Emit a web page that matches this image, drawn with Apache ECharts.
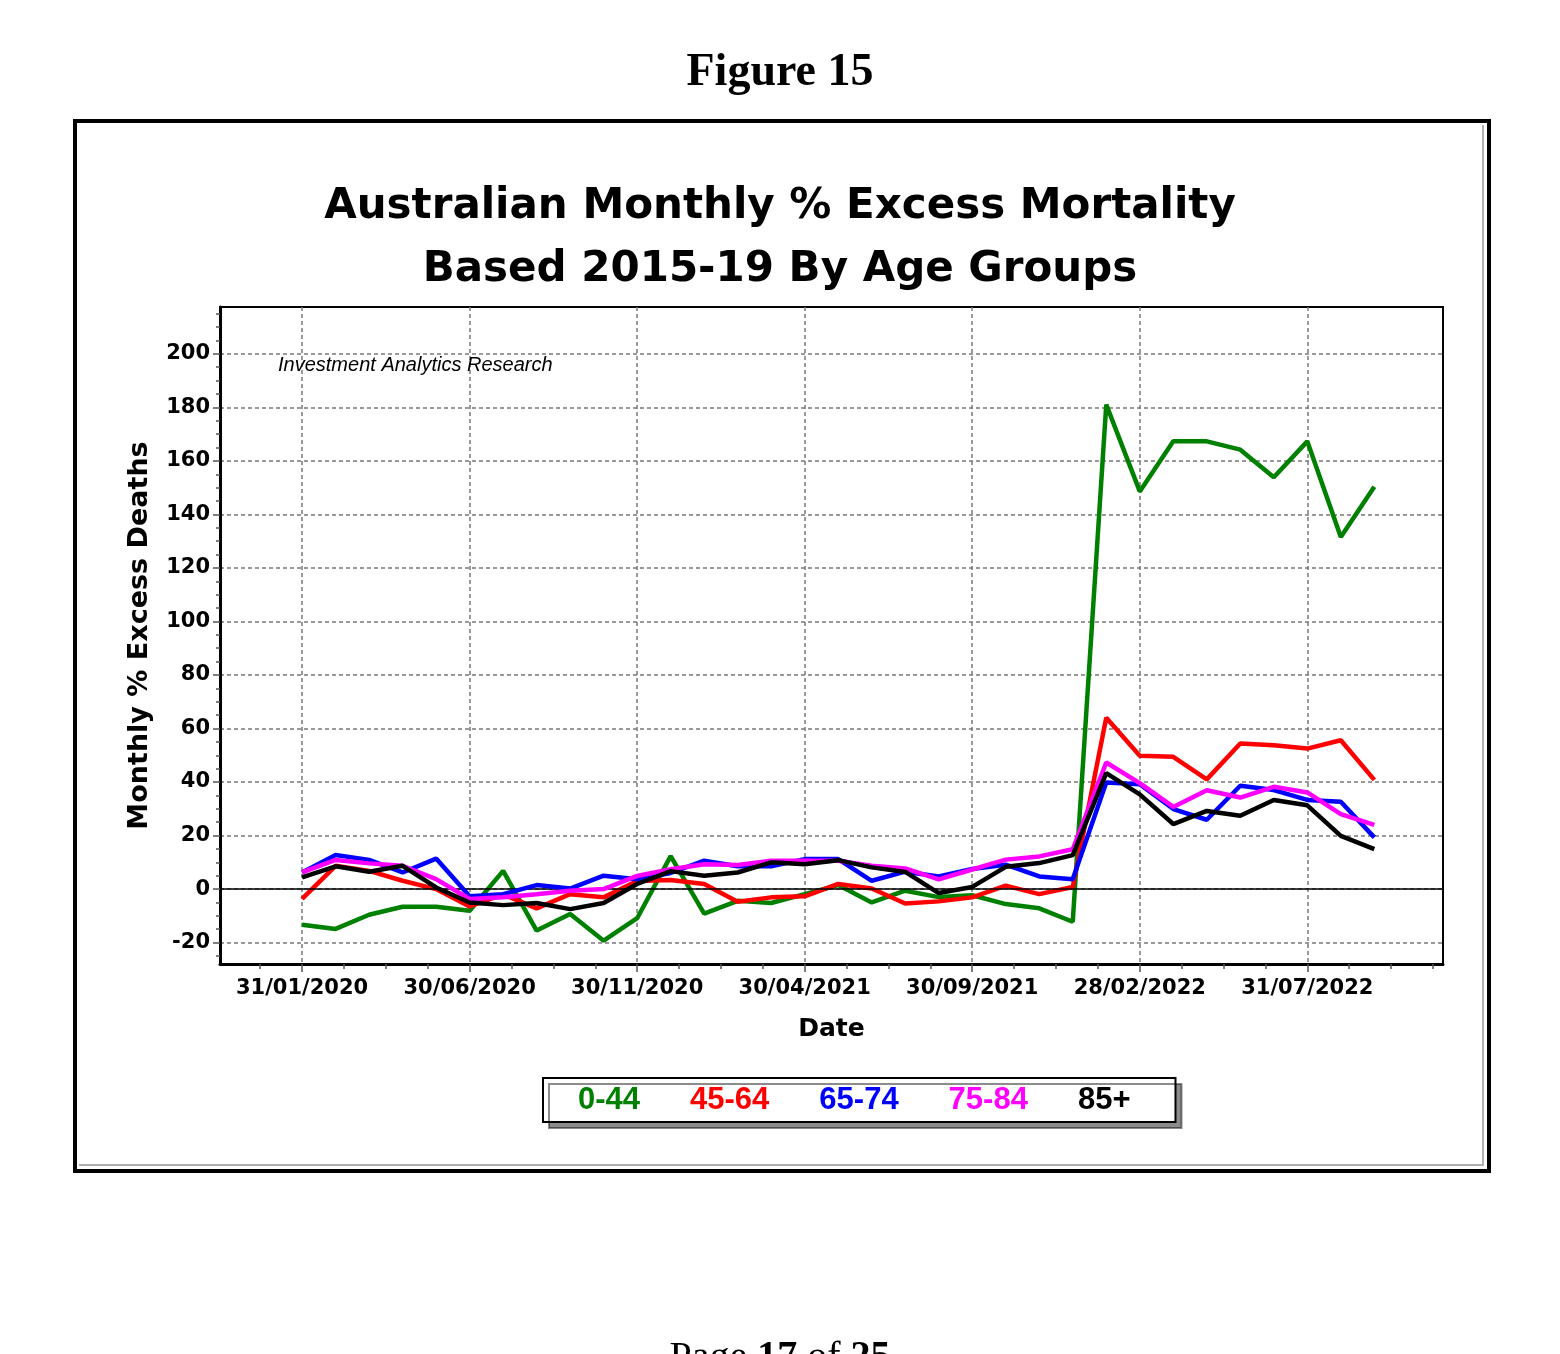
<!DOCTYPE html>
<html>
<head>
<meta charset="utf-8">
<script src="https://cdn.jsdelivr.net/npm/echarts@6/dist/echarts.min.js"></script>
<style>
html, body { margin: 0; padding: 0; background: #fff; }
#chart { width: 1560px; height: 1354px; }
</style>
</head>
<body>
<div id="chart"></div>
<script>
// month end dates, one per data point
var months = [
    '31/01/2020', '29/02/2020', '31/03/2020', '30/04/2020', '31/05/2020', '30/06/2020',
    '31/07/2020', '31/08/2020', '30/09/2020', '31/10/2020', '30/11/2020', '31/12/2020',
    '31/01/2021', '28/02/2021', '31/03/2021', '30/04/2021', '31/05/2021', '30/06/2021',
    '31/07/2021', '31/08/2021', '30/09/2021', '31/10/2021', '30/11/2021', '31/12/2021',
    '31/01/2022', '28/02/2022', '31/03/2022', '30/04/2022', '31/05/2022', '30/06/2022',
    '31/07/2022', '31/08/2022', '30/09/2022'
];

// % excess deaths by age group
var age0to44 = [-13.3, -14.9, -9.6, -6.6, -6.6, -8.1, 6.8, -15.5, -9.3, -19.3, -10.9, 12.3,
    -9.2, -4.4, -5.2, -1.9, 1.5, -5, -0.6, -3, -2.3, -5.6, -7.2, -12.2,
    181, 148.6, 167.3, 167.3, 164.2, 153.9, 167.3, 131.6, 150.3];
var age45to64 = [-3.7, 8.7, 6.8, 3.1, 0, -6.5, -2, -7.2, -1.9, -3.1, 3, 3.4,
    1.9, -4.7, -3.1, -2.7, 1.9, 0.2, -5.4, -4.6, -3.1, 1.3, -1.9, 0.8,
    64, 49.8, 49.4, 41, 54.4, 53.7, 52.5, 55.6, 40.8];
var age65to74 = [6.2, 12.7, 10.9, 6.2, 11.4, -2.7, -1.9, 1.5, 0.2, 5, 3.7, 6,
    10.6, 8.5, 8.5, 11.2, 11.2, 3.1, 6.5, 4.7, 7.5, 9.1, 4.7, 3.7,
    39.8, 39.2, 29.9, 25.9, 38.6, 37, 33.3, 32.6, 19.3];
var age75to84 = [6.2, 10.9, 9.6, 8.7, 3.7, -3.7, -3.1, -1.9, -0.6, 0, 4.9, 7.4,
    9.3, 9, 10.6, 10.6, 10.6, 8.7, 7.7, 3.6, 7.3, 11, 12.2, 14.9,
    47.3, 39.6, 30.7, 36.9, 34.2, 38.2, 36.1, 28, 24];
var age85plus = [4.4, 8.5, 6.5, 8.7, 0.6, -5, -6, -5.2, -7.5, -5.2, 1.9, 6.7,
    5, 6.2, 10, 9.3, 10.8, 8.1, 6.4, -1.5, 0.8, 8.3, 9.7, 12.7,
    43.3, 35.4, 24.3, 29.2, 27.4, 33.3, 31.3, 19.9, 14.9];

var groupNames = ['0-44', '45-64', '65-74', '75-84', '85+'];
var groupColors = ['#008000', '#ff0000', '#0000ff', '#ff00ff', '#000000'];

// ticks
var xLabelIdx = [0, 5, 10, 15, 20, 25, 30];
var yLabels = [-20, 0, 20, 40, 60, 80, 100, 120, 140, 160, 180, 200];

var xMin = -2.45, xMax = 34.05, yMin = -28, yMax = 217.5;

var xMinor = [];
for (var t = -1.25; t < xMax; t += 1.25) xMinor.push(t);
var yMinor = [];
for (var u = -25; u < yMax; u += 5) yMinor.push(u);

var SANS = 'DejaVu Sans';

function pairs(vals) {
    return vals.map(function (v, i) { return [i, v]; });
}

var allGroups = [age0to44, age45to64, age65to74, age75to84, age85plus];
var series = allGroups.map(function (vals, k) {
    var s = {
        name: groupNames[k],
        type: 'line',
        data: pairs(vals),
        showSymbol: false,
        symbol: 'none',
        color: groupColors[k],
        lineStyle: { color: groupColors[k], width: 4.5 },
        z: 3 + k
    };
    if (k === 0) {
        //零线
        s.markLine = {
            silent: true,
            symbol: 'none',
            label: { show: false },
            lineStyle: { color: '#000', type: 'solid', width: 1.5 },
            data: [{ yAxis: 0 }]
        };
    }
    return s;
});

var gridLine = { show: true, lineStyle: { color: '#7a7a7a', type: [4, 3], width: 1.5 } };

var option = {
    animation: false,
    backgroundColor: '#fff',
    title: {
        text: 'Australian Monthly % Excess Mortality\nBased 2015-19 By Age Groups',
        left: 'center',
        top: 171,
        textStyle: { fontFamily: SANS, fontWeight: 'bold', fontSize: 42, lineHeight: 63, color: '#000' }
    },
    grid: {
        left: 220, right: 117, top: 307, bottom: 390,
        show: true, borderColor: '#000', borderWidth: 2, backgroundColor: 'transparent'
    },
    legend: {
        left: 543,
        top: 1078,
        orient: 'horizontal',
        icon: 'rect',
        itemWidth: 0,
        itemHeight: 0,
        itemGap: 45,
        padding: [5, 45, 5, 30],
        backgroundColor: '#fff',
        borderColor: '#000',
        borderWidth: 2,
        borderRadius: 0,
        shadowColor: 'rgba(0,0,0,0.45)',
        shadowOffsetX: 6,
        shadowOffsetY: 6,
        shadowBlur: 0,
        selectedMode: false,
        textStyle: { fontFamily: 'Liberation Sans', fontWeight: 'bold', fontSize: 31, lineHeight: 34 },
        data: groupNames.map(function (n, k) {
            return { name: n, textStyle: { color: groupColors[k] } };
        })
    },
    xAxis: [{
        type: 'value',
        min: xMin,
        max: xMax,
        position: 'bottom',
        name: 'Date',
        nameLocation: 'middle',
        nameGap: 53,
        nameTextStyle: { fontFamily: SANS, fontWeight: 'bold', fontSize: 25, color: '#000' },
        axisLine: { show: true, onZero: false, lineStyle: { color: '#000', width: 3 } },
        axisTick: { show: true, customValues: xLabelIdx, length: 8, lineStyle: { color: '#555', width: 1.5 } },
        axisLabel: {
            customValues: xLabelIdx,
            formatter: function (v) { return months[Math.round(v)]; },
            fontFamily: SANS, fontWeight: 'bold', fontSize: 21, color: '#000', margin: 14
        },
        splitLine: gridLine
    }, {
        type: 'value',
        min: xMin,
        max: xMax,
        position: 'bottom',
        axisLine: { show: false, onZero: false },
        axisTick: { show: true, customValues: xMinor, length: 5, lineStyle: { color: '#555', width: 1.5 } },
        axisLabel: { show: false },
        splitLine: { show: false }
    }],
    yAxis: [{
        type: 'value',
        min: yMin,
        max: yMax,
        position: 'left',
        name: 'Monthly % Excess Deaths',
        nameLocation: 'middle',
        nameGap: 67,
        nameRotate: 90,
        nameTextStyle: { fontFamily: SANS, fontWeight: 'bold', fontSize: 27, color: '#000' },
        axisLine: { show: true, onZero: false, lineStyle: { color: '#000', width: 3 } },
        axisTick: { show: true, customValues: yLabels, length: 7, lineStyle: { color: '#555', width: 1.5 } },
        axisLabel: {
            customValues: yLabels,
            fontFamily: SANS, fontWeight: 'bold', fontSize: 21, color: '#000', margin: 10
        },
        splitLine: gridLine
    }, {
        type: 'value',
        min: yMin,
        max: yMax,
        position: 'left',
        axisLine: { show: false, onZero: false },
        axisTick: { show: true, customValues: yMinor, length: 4, lineStyle: { color: '#555', width: 1.5 } },
        axisLabel: { show: false },
        splitLine: { show: false }
    }],
    graphic: [
        {
            type: 'text', left: 'center', top: 50,
            style: { text: 'Figure 15', fontFamily: 'Liberation Serif', fontWeight: 'bold', fontSize: 46, fill: '#000' }
        },
        {
            type: 'rect', z: 0,
            shape: { x: 75, y: 121, width: 1414, height: 1050 },
            style: { fill: 'none', stroke: '#000', lineWidth: 4 }
        },
        {
            type: 'polyline', z: 0,
            shape: { points: [[79, 1165], [1483, 1165], [1483, 125]] },
            style: { fill: 'none', stroke: '#b0b0b0', lineWidth: 2 }
        },
        {
            type: 'text', left: 278, top: 355, z: 10,
            style: { text: 'Investment Analytics Research', fontFamily: 'Liberation Sans', fontStyle: 'italic', fontSize: 20, fill: '#000' }
        },
        {
            type: 'text', left: 'center', top: 1338,
            style: {
                text: '{r|Page }{b|17}{r| of }{b|25}',
                rich: {
                    r: { fontFamily: 'Liberation Serif', fontSize: 40, fill: '#000' },
                    b: { fontFamily: 'Liberation Serif', fontWeight: 'bold', fontSize: 40, fill: '#000' }
                }
            }
        }
    ],
    series: series
};

var myChart = echarts.init(document.getElementById('chart'));
myChart.setOption(option);
</script>
</body>
</html>
